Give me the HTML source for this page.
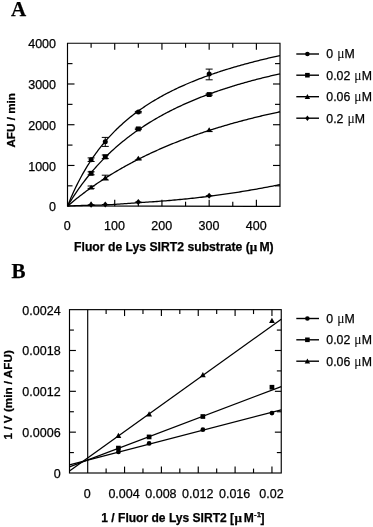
<!DOCTYPE html>
<html><head><meta charset="utf-8"><title>Figure</title>
<style>html,body{margin:0;padding:0;background:#fff}svg{display:block}</style></head>
<body><svg width="373" height="527" viewBox="0 0 373 527">
<rect width="373" height="527" fill="#fff"/>
<polygon points="67.5,43.25 280.0,43.25 280.0,206.39999999999998 67.5,205.89999999999998" fill="none" stroke="#000" stroke-width="1.15" stroke-linejoin="miter"/>
<line x1="91.11" y1="43.25" x2="91.11" y2="47.75" stroke="#000" stroke-width="1.15"/>
<line x1="91.11" y1="206.20" x2="91.11" y2="201.70" stroke="#000" stroke-width="1.15"/>
<line x1="114.72" y1="43.25" x2="114.72" y2="49.75" stroke="#000" stroke-width="1.15"/>
<line x1="114.72" y1="206.20" x2="114.72" y2="199.70" stroke="#000" stroke-width="1.15"/>
<line x1="138.33" y1="43.25" x2="138.33" y2="47.75" stroke="#000" stroke-width="1.15"/>
<line x1="138.33" y1="206.20" x2="138.33" y2="201.70" stroke="#000" stroke-width="1.15"/>
<line x1="161.94" y1="43.25" x2="161.94" y2="49.75" stroke="#000" stroke-width="1.15"/>
<line x1="161.94" y1="206.20" x2="161.94" y2="199.70" stroke="#000" stroke-width="1.15"/>
<line x1="185.56" y1="43.25" x2="185.56" y2="47.75" stroke="#000" stroke-width="1.15"/>
<line x1="185.56" y1="206.20" x2="185.56" y2="201.70" stroke="#000" stroke-width="1.15"/>
<line x1="209.17" y1="43.25" x2="209.17" y2="49.75" stroke="#000" stroke-width="1.15"/>
<line x1="209.17" y1="206.20" x2="209.17" y2="199.70" stroke="#000" stroke-width="1.15"/>
<line x1="232.78" y1="43.25" x2="232.78" y2="47.75" stroke="#000" stroke-width="1.15"/>
<line x1="232.78" y1="206.20" x2="232.78" y2="201.70" stroke="#000" stroke-width="1.15"/>
<line x1="256.39" y1="43.25" x2="256.39" y2="49.75" stroke="#000" stroke-width="1.15"/>
<line x1="256.39" y1="206.20" x2="256.39" y2="199.70" stroke="#000" stroke-width="1.15"/>
<line x1="67.50" y1="185.83" x2="72.50" y2="185.83" stroke="#000" stroke-width="1.15"/>
<line x1="280.00" y1="185.83" x2="275.00" y2="185.83" stroke="#000" stroke-width="1.15"/>
<line x1="67.50" y1="165.46" x2="74.50" y2="165.46" stroke="#000" stroke-width="1.15"/>
<line x1="280.00" y1="165.46" x2="273.00" y2="165.46" stroke="#000" stroke-width="1.15"/>
<line x1="67.50" y1="145.09" x2="72.50" y2="145.09" stroke="#000" stroke-width="1.15"/>
<line x1="280.00" y1="145.09" x2="275.00" y2="145.09" stroke="#000" stroke-width="1.15"/>
<line x1="67.50" y1="124.72" x2="74.50" y2="124.72" stroke="#000" stroke-width="1.15"/>
<line x1="280.00" y1="124.72" x2="273.00" y2="124.72" stroke="#000" stroke-width="1.15"/>
<line x1="67.50" y1="104.36" x2="72.50" y2="104.36" stroke="#000" stroke-width="1.15"/>
<line x1="280.00" y1="104.36" x2="275.00" y2="104.36" stroke="#000" stroke-width="1.15"/>
<line x1="67.50" y1="83.99" x2="74.50" y2="83.99" stroke="#000" stroke-width="1.15"/>
<line x1="280.00" y1="83.99" x2="273.00" y2="83.99" stroke="#000" stroke-width="1.15"/>
<line x1="67.50" y1="63.62" x2="72.50" y2="63.62" stroke="#000" stroke-width="1.15"/>
<line x1="280.00" y1="63.62" x2="275.00" y2="63.62" stroke="#000" stroke-width="1.15"/>
<path d="M67.50,206.20 L68.68,203.26 L69.86,200.40 L71.04,197.62 L72.22,194.93 L73.40,192.30 L74.58,189.75 L75.76,187.27 L76.94,184.86 L78.12,182.51 L79.31,180.22 L80.49,177.98 L81.67,175.81 L82.85,173.69 L84.03,171.62 L85.21,169.60 L86.39,167.62 L87.57,165.70 L88.75,163.82 L89.93,161.98 L91.11,160.18 L92.29,158.43 L93.47,156.71 L94.65,155.03 L95.83,153.38 L97.01,151.77 L98.19,150.20 L99.38,148.66 L100.56,147.15 L101.74,145.67 L102.92,144.22 L104.10,142.79 L105.28,141.40 L106.46,140.03 L107.64,138.69 L108.82,137.38 L110.00,136.09 L111.18,134.82 L112.36,133.58 L113.54,132.36 L114.72,131.16 L115.90,129.98 L117.08,128.83 L118.26,127.69 L119.44,126.57 L120.62,125.48 L121.81,124.40 L122.99,123.34 L124.17,122.29 L125.35,121.27 L126.53,120.26 L127.71,119.27 L128.89,118.29 L130.07,117.33 L131.25,116.38 L132.43,115.45 L133.61,114.53 L134.79,113.63 L135.97,112.74 L137.15,111.87 L138.33,111.00 L139.51,110.15 L140.69,109.31 L141.88,108.49 L143.06,107.68 L144.24,106.87 L145.42,106.08 L146.60,105.30 L147.78,104.54 L148.96,103.78 L150.14,103.03 L151.32,102.29 L152.50,101.57 L153.68,100.85 L154.86,100.14 L156.04,99.44 L157.22,98.75 L158.40,98.07 L159.58,97.40 L160.76,96.73 L161.94,96.08 L163.12,95.43 L164.31,94.79 L165.49,94.16 L166.67,93.54 L167.85,92.93 L169.03,92.32 L170.21,91.72 L171.39,91.12 L172.57,90.54 L173.75,89.96 L174.93,89.38 L176.11,88.82 L177.29,88.26 L178.47,87.71 L179.65,87.16 L180.83,86.62 L182.01,86.08 L183.19,85.55 L184.38,85.03 L185.56,84.51 L186.74,84.00 L187.92,83.50 L189.10,83.00 L190.28,82.50 L191.46,82.01 L192.64,81.53 L193.82,81.05 L195.00,80.57 L196.18,80.10 L197.36,79.64 L198.54,79.17 L199.72,78.72 L200.90,78.27 L202.08,77.82 L203.26,77.38 L204.44,76.94 L205.62,76.51 L206.81,76.08 L207.99,75.65 L209.17,75.23 L210.35,74.81 L211.53,74.40 L212.71,73.99 L213.89,73.59 L215.07,73.18 L216.25,72.79 L217.43,72.39 L218.61,72.00 L219.79,71.61 L220.97,71.23 L222.15,70.85 L223.33,70.47 L224.51,70.10 L225.69,69.73 L226.88,69.36 L228.06,69.00 L229.24,68.64 L230.42,68.28 L231.60,67.92 L232.78,67.57 L233.96,67.22 L235.14,66.88 L236.32,66.54 L237.50,66.20 L238.68,65.86 L239.86,65.52 L241.04,65.19 L242.22,64.86 L243.40,64.54 L244.58,64.21 L245.76,63.89 L246.94,63.57 L248.12,63.26 L249.31,62.94 L250.49,62.63 L251.67,62.32 L252.85,62.02 L254.03,61.71 L255.21,61.41 L256.39,61.11 L257.57,60.81 L258.75,60.52 L259.93,60.22 L261.11,59.93 L262.29,59.65 L263.47,59.36 L264.65,59.07 L265.83,58.79 L267.01,58.51 L268.19,58.23 L269.38,57.96 L270.56,57.68 L271.74,57.41 L272.92,57.14 L274.10,56.87 L275.28,56.60 L276.46,56.34 L277.64,56.08 L278.82,55.81 L280.00,55.55" fill="none" stroke="#000" stroke-width="1.3" stroke-linejoin="round"/>
<path d="M67.50,206.20 L68.68,204.22 L69.86,202.28 L71.04,200.37 L72.22,198.50 L73.40,196.67 L74.58,194.86 L75.76,193.09 L76.94,191.36 L78.12,189.65 L79.31,187.97 L80.49,186.33 L81.67,184.71 L82.85,183.12 L84.03,181.55 L85.21,180.01 L86.39,178.50 L87.57,177.01 L88.75,175.54 L89.93,174.10 L91.11,172.68 L92.29,171.29 L93.47,169.91 L94.65,168.56 L95.83,167.22 L97.01,165.91 L98.19,164.62 L99.38,163.35 L100.56,162.09 L101.74,160.85 L102.92,159.64 L104.10,158.43 L105.28,157.25 L106.46,156.08 L107.64,154.93 L108.82,153.80 L110.00,152.68 L111.18,151.58 L112.36,150.49 L113.54,149.42 L114.72,148.36 L115.90,147.32 L117.08,146.29 L118.26,145.27 L119.44,144.27 L120.62,143.28 L121.81,142.30 L122.99,141.34 L124.17,140.38 L125.35,139.44 L126.53,138.52 L127.71,137.60 L128.89,136.70 L130.07,135.80 L131.25,134.92 L132.43,134.05 L133.61,133.19 L134.79,132.34 L135.97,131.50 L137.15,130.67 L138.33,129.85 L139.51,129.04 L140.69,128.24 L141.88,127.45 L143.06,126.67 L144.24,125.90 L145.42,125.14 L146.60,124.38 L147.78,123.64 L148.96,122.90 L150.14,122.17 L151.32,121.45 L152.50,120.74 L153.68,120.03 L154.86,119.34 L156.04,118.65 L157.22,117.97 L158.40,117.30 L159.58,116.63 L160.76,115.97 L161.94,115.32 L163.12,114.68 L164.31,114.04 L165.49,113.41 L166.67,112.78 L167.85,112.17 L169.03,111.56 L170.21,110.95 L171.39,110.35 L172.57,109.76 L173.75,109.18 L174.93,108.60 L176.11,108.02 L177.29,107.46 L178.47,106.90 L179.65,106.34 L180.83,105.79 L182.01,105.24 L183.19,104.71 L184.38,104.17 L185.56,103.64 L186.74,103.12 L187.92,102.60 L189.10,102.09 L190.28,101.58 L191.46,101.08 L192.64,100.58 L193.82,100.09 L195.00,99.60 L196.18,99.11 L197.36,98.64 L198.54,98.16 L199.72,97.69 L200.90,97.23 L202.08,96.76 L203.26,96.31 L204.44,95.86 L205.62,95.41 L206.81,94.96 L207.99,94.52 L209.17,94.09 L210.35,93.66 L211.53,93.23 L212.71,92.80 L213.89,92.38 L215.07,91.97 L216.25,91.56 L217.43,91.15 L218.61,90.74 L219.79,90.34 L220.97,89.94 L222.15,89.55 L223.33,89.16 L224.51,88.77 L225.69,88.39 L226.88,88.01 L228.06,87.63 L229.24,87.26 L230.42,86.89 L231.60,86.52 L232.78,86.15 L233.96,85.79 L235.14,85.43 L236.32,85.08 L237.50,84.73 L238.68,84.38 L239.86,84.03 L241.04,83.69 L242.22,83.35 L243.40,83.01 L244.58,82.68 L245.76,82.35 L246.94,82.02 L248.12,81.69 L249.31,81.37 L250.49,81.05 L251.67,80.73 L252.85,80.42 L254.03,80.10 L255.21,79.79 L256.39,79.49 L257.57,79.18 L258.75,78.88 L259.93,78.58 L261.11,78.28 L262.29,77.99 L263.47,77.69 L264.65,77.40 L265.83,77.11 L267.01,76.83 L268.19,76.54 L269.38,76.26 L270.56,75.98 L271.74,75.71 L272.92,75.43 L274.10,75.16 L275.28,74.89 L276.46,74.62 L277.64,74.35 L278.82,74.09 L280.00,73.83" fill="none" stroke="#000" stroke-width="1.3" stroke-linejoin="round"/>
<path d="M67.50,206.20 L68.68,205.18 L69.86,204.18 L71.04,203.18 L72.22,202.19 L73.40,201.22 L74.58,200.25 L75.76,199.30 L76.94,198.35 L78.12,197.41 L79.31,196.48 L80.49,195.57 L81.67,194.66 L82.85,193.75 L84.03,192.86 L85.21,191.98 L86.39,191.10 L87.57,190.23 L88.75,189.37 L89.93,188.52 L91.11,187.68 L92.29,186.84 L93.47,186.01 L94.65,185.19 L95.83,184.38 L97.01,183.57 L98.19,182.77 L99.38,181.98 L100.56,181.19 L101.74,180.41 L102.92,179.64 L104.10,178.88 L105.28,178.12 L106.46,177.37 L107.64,176.62 L108.82,175.88 L110.00,175.15 L111.18,174.42 L112.36,173.70 L113.54,172.99 L114.72,172.28 L115.90,171.57 L117.08,170.88 L118.26,170.19 L119.44,169.50 L120.62,168.82 L121.81,168.15 L122.99,167.48 L124.17,166.82 L125.35,166.16 L126.53,165.51 L127.71,164.86 L128.89,164.22 L130.07,163.58 L131.25,162.95 L132.43,162.32 L133.61,161.70 L134.79,161.09 L135.97,160.47 L137.15,159.87 L138.33,159.27 L139.51,158.67 L140.69,158.08 L141.88,157.49 L143.06,156.91 L144.24,156.33 L145.42,155.75 L146.60,155.19 L147.78,154.62 L148.96,154.06 L150.14,153.50 L151.32,152.95 L152.50,152.40 L153.68,151.86 L154.86,151.32 L156.04,150.79 L157.22,150.26 L158.40,149.73 L159.58,149.21 L160.76,148.69 L161.94,148.17 L163.12,147.66 L164.31,147.16 L165.49,146.65 L166.67,146.15 L167.85,145.66 L169.03,145.17 L170.21,144.68 L171.39,144.19 L172.57,143.71 L173.75,143.23 L174.93,142.76 L176.11,142.29 L177.29,141.82 L178.47,141.36 L179.65,140.90 L180.83,140.44 L182.01,139.99 L183.19,139.54 L184.38,139.10 L185.56,138.65 L186.74,138.21 L187.92,137.78 L189.10,137.34 L190.28,136.91 L191.46,136.49 L192.64,136.06 L193.82,135.64 L195.00,135.22 L196.18,134.81 L197.36,134.40 L198.54,133.99 L199.72,133.58 L200.90,133.18 L202.08,132.78 L203.26,132.38 L204.44,131.99 L205.62,131.60 L206.81,131.21 L207.99,130.82 L209.17,130.44 L210.35,130.06 L211.53,129.68 L212.71,129.31 L213.89,128.93 L215.07,128.56 L216.25,128.20 L217.43,127.83 L218.61,127.47 L219.79,127.11 L220.97,126.76 L222.15,126.40 L223.33,126.05 L224.51,125.70 L225.69,125.35 L226.88,125.01 L228.06,124.67 L229.24,124.33 L230.42,123.99 L231.60,123.66 L232.78,123.32 L233.96,122.99 L235.14,122.67 L236.32,122.34 L237.50,122.02 L238.68,121.70 L239.86,121.38 L241.04,121.06 L242.22,120.75 L243.40,120.43 L244.58,120.12 L245.76,119.82 L246.94,119.51 L248.12,119.21 L249.31,118.91 L250.49,118.61 L251.67,118.31 L252.85,118.01 L254.03,117.72 L255.21,117.43 L256.39,117.14 L257.57,116.85 L258.75,116.57 L259.93,116.29 L261.11,116.00 L262.29,115.72 L263.47,115.45 L264.65,115.17 L265.83,114.90 L267.01,114.63 L268.19,114.36 L269.38,114.09 L270.56,113.82 L271.74,113.56 L272.92,113.29 L274.10,113.03 L275.28,112.77 L276.46,112.52 L277.64,112.26 L278.82,112.01 L280.00,111.76" fill="none" stroke="#000" stroke-width="1.3" stroke-linejoin="round"/>
<path d="M67.50,206.10 L69.29,205.99 L71.07,205.90 L72.86,205.81 L74.64,205.74 L76.43,205.67 L78.21,205.61 L80.00,205.55 L81.79,205.51 L83.57,205.46 L85.36,205.42 L87.14,205.38 L88.93,205.34 L90.71,205.31 L92.50,205.27 L94.29,205.23 L96.07,205.19 L97.86,205.14 L99.64,205.09 L101.43,205.03 L103.21,204.97 L105.00,204.90 L106.79,204.82 L108.57,204.73 L110.36,204.64 L112.14,204.54 L113.93,204.43 L115.71,204.32 L117.50,204.20 L119.29,204.08 L121.07,203.96 L122.86,203.83 L124.64,203.70 L126.43,203.57 L128.21,203.44 L130.00,203.31 L131.79,203.18 L133.57,203.05 L135.36,202.92 L137.14,202.79 L138.93,202.67 L140.71,202.55 L142.50,202.44 L144.29,202.32 L146.07,202.21 L147.86,202.09 L149.64,201.97 L151.43,201.85 L153.21,201.73 L155.00,201.61 L156.79,201.48 L158.57,201.35 L160.36,201.21 L162.14,201.07 L163.93,200.93 L165.71,200.79 L167.50,200.64 L169.29,200.49 L171.07,200.34 L172.86,200.18 L174.64,200.02 L176.43,199.86 L178.21,199.69 L180.00,199.52 L181.79,199.35 L183.57,199.18 L185.36,199.00 L187.14,198.81 L188.93,198.63 L190.71,198.44 L192.50,198.25 L194.29,198.05 L196.07,197.85 L197.86,197.65 L199.64,197.44 L201.43,197.23 L203.21,197.02 L205.00,196.80 L206.79,196.58 L208.57,196.36 L210.36,196.13 L212.14,195.90 L213.93,195.67 L215.71,195.43 L217.50,195.19 L219.29,194.94 L221.07,194.69 L222.86,194.44 L224.64,194.19 L226.43,193.93 L228.21,193.67 L230.00,193.40 L231.79,193.13 L233.57,192.86 L235.36,192.59 L237.14,192.31 L238.93,192.03 L240.71,191.74 L242.50,191.45 L244.29,191.16 L246.07,190.86 L247.86,190.56 L249.64,190.26 L251.43,189.95 L253.21,189.65 L255.00,189.33 L256.79,189.02 L258.57,188.70 L260.36,188.37 L262.14,188.05 L263.93,187.72 L265.71,187.38 L267.50,187.05 L269.29,186.71 L271.07,186.37 L272.86,186.02 L274.64,185.67 L276.43,185.32 L278.21,184.96 L280.00,184.60" fill="none" stroke="#000" stroke-width="1.3" stroke-linejoin="round"/>
<line x1="91.11" y1="157.90" x2="91.11" y2="161.50" stroke="#000" stroke-width="1.0"/>
<line x1="87.61" y1="157.90" x2="94.61" y2="157.90" stroke="#000" stroke-width="1.0"/>
<line x1="87.61" y1="161.50" x2="94.61" y2="161.50" stroke="#000" stroke-width="1.0"/>
<circle cx="91.11" cy="159.70" r="2.5" fill="#000"/>
<line x1="105.28" y1="137.40" x2="105.28" y2="146.40" stroke="#000" stroke-width="1.0"/>
<line x1="101.78" y1="137.40" x2="108.78" y2="137.40" stroke="#000" stroke-width="1.0"/>
<line x1="101.78" y1="146.40" x2="108.78" y2="146.40" stroke="#000" stroke-width="1.0"/>
<circle cx="105.28" cy="141.80" r="2.5" fill="#000"/>
<line x1="138.33" y1="111.40" x2="138.33" y2="112.80" stroke="#000" stroke-width="1.0"/>
<line x1="134.83" y1="111.40" x2="141.83" y2="111.40" stroke="#000" stroke-width="1.0"/>
<line x1="134.83" y1="112.80" x2="141.83" y2="112.80" stroke="#000" stroke-width="1.0"/>
<circle cx="138.33" cy="112.10" r="2.5" fill="#000"/>
<line x1="209.17" y1="69.10" x2="209.17" y2="79.80" stroke="#000" stroke-width="1.0"/>
<line x1="205.67" y1="69.10" x2="212.67" y2="69.10" stroke="#000" stroke-width="1.0"/>
<line x1="205.67" y1="79.80" x2="212.67" y2="79.80" stroke="#000" stroke-width="1.0"/>
<circle cx="209.17" cy="74.10" r="2.5" fill="#000"/>
<line x1="91.11" y1="171.80" x2="91.11" y2="174.80" stroke="#000" stroke-width="1.0"/>
<line x1="87.61" y1="171.80" x2="94.61" y2="171.80" stroke="#000" stroke-width="1.0"/>
<line x1="87.61" y1="174.80" x2="94.61" y2="174.80" stroke="#000" stroke-width="1.0"/>
<rect x="88.66" y="170.85" width="4.9" height="4.9" fill="#000"/>
<line x1="105.28" y1="155.00" x2="105.28" y2="158.60" stroke="#000" stroke-width="1.0"/>
<line x1="101.78" y1="155.00" x2="108.78" y2="155.00" stroke="#000" stroke-width="1.0"/>
<line x1="101.78" y1="158.60" x2="108.78" y2="158.60" stroke="#000" stroke-width="1.0"/>
<rect x="102.83" y="154.35" width="4.9" height="4.9" fill="#000"/>
<line x1="138.33" y1="128.20" x2="138.33" y2="129.60" stroke="#000" stroke-width="1.0"/>
<line x1="134.83" y1="128.20" x2="141.83" y2="128.20" stroke="#000" stroke-width="1.0"/>
<line x1="134.83" y1="129.60" x2="141.83" y2="129.60" stroke="#000" stroke-width="1.0"/>
<rect x="135.88" y="126.45" width="4.9" height="4.9" fill="#000"/>
<line x1="209.17" y1="93.85" x2="209.17" y2="95.25" stroke="#000" stroke-width="1.0"/>
<line x1="205.67" y1="93.85" x2="212.67" y2="93.85" stroke="#000" stroke-width="1.0"/>
<line x1="205.67" y1="95.25" x2="212.67" y2="95.25" stroke="#000" stroke-width="1.0"/>
<rect x="206.72" y="92.10" width="4.9" height="4.9" fill="#000"/>
<line x1="91.11" y1="186.00" x2="91.11" y2="188.40" stroke="#000" stroke-width="1.0"/>
<line x1="87.61" y1="186.00" x2="94.61" y2="186.00" stroke="#000" stroke-width="1.0"/>
<line x1="87.61" y1="188.40" x2="94.61" y2="188.40" stroke="#000" stroke-width="1.0"/>
<polygon points="91.11,184.85 94.11,189.55 88.11,189.55" fill="#000"/>
<line x1="105.28" y1="175.20" x2="105.28" y2="180.00" stroke="#000" stroke-width="1.0"/>
<line x1="101.78" y1="175.20" x2="108.78" y2="175.20" stroke="#000" stroke-width="1.0"/>
<line x1="101.78" y1="180.00" x2="108.78" y2="180.00" stroke="#000" stroke-width="1.0"/>
<polygon points="105.28,175.25 108.28,179.95 102.28,179.95" fill="#000"/>
<line x1="134.83" y1="159.90" x2="141.83" y2="159.90" stroke="#000" stroke-width="1.0"/>
<polygon points="138.33,155.65 141.33,160.35 135.33,160.35" fill="#000"/>
<line x1="205.67" y1="131.60" x2="212.67" y2="131.60" stroke="#000" stroke-width="1.0"/>
<polygon points="209.17,127.35 212.17,132.05 206.17,132.05" fill="#000"/>
<line x1="87.71" y1="204.80" x2="94.51" y2="204.80" stroke="#000" stroke-width="1.0"/>
<polygon points="91.11,201.80 93.71,204.80 91.11,207.80 88.51,204.80" fill="#000"/>
<line x1="101.88" y1="204.50" x2="108.68" y2="204.50" stroke="#000" stroke-width="1.0"/>
<polygon points="105.28,201.50 107.88,204.50 105.28,207.50 102.68,204.50" fill="#000"/>
<line x1="134.93" y1="202.10" x2="141.73" y2="202.10" stroke="#000" stroke-width="1.0"/>
<polygon points="138.33,199.10 140.93,202.10 138.33,205.10 135.73,202.10" fill="#000"/>
<line x1="205.77" y1="195.70" x2="212.57" y2="195.70" stroke="#000" stroke-width="1.0"/>
<polygon points="209.17,192.70 211.77,195.70 209.17,198.70 206.57,195.70" fill="#000"/>
<text x="56.00" y="211.40" font-size="12.5" text-anchor="end" font-weight="normal" font-family='"Liberation Sans", Arial, sans-serif' stroke="#000" stroke-width="0.25" >0</text>
<text x="56.00" y="170.66" font-size="12.5" text-anchor="end" font-weight="normal" font-family='"Liberation Sans", Arial, sans-serif' stroke="#000" stroke-width="0.25" >1000</text>
<text x="56.00" y="129.92" font-size="12.5" text-anchor="end" font-weight="normal" font-family='"Liberation Sans", Arial, sans-serif' stroke="#000" stroke-width="0.25" >2000</text>
<text x="56.00" y="88.99" font-size="12.5" text-anchor="end" font-weight="normal" font-family='"Liberation Sans", Arial, sans-serif' stroke="#000" stroke-width="0.25" >3000</text>
<text x="56.00" y="48.15" font-size="12.5" text-anchor="end" font-weight="normal" font-family='"Liberation Sans", Arial, sans-serif' stroke="#000" stroke-width="0.25" >4000</text>
<text x="67.30" y="230.40" font-size="12.5" text-anchor="middle" font-weight="normal" font-family='"Liberation Sans", Arial, sans-serif' stroke="#000" stroke-width="0.25" >0</text>
<text x="114.52" y="230.40" font-size="12.5" text-anchor="middle" font-weight="normal" font-family='"Liberation Sans", Arial, sans-serif' stroke="#000" stroke-width="0.25" >100</text>
<text x="161.74" y="230.40" font-size="12.5" text-anchor="middle" font-weight="normal" font-family='"Liberation Sans", Arial, sans-serif' stroke="#000" stroke-width="0.25" >200</text>
<text x="208.97" y="230.40" font-size="12.5" text-anchor="middle" font-weight="normal" font-family='"Liberation Sans", Arial, sans-serif' stroke="#000" stroke-width="0.25" >300</text>
<text x="256.19" y="230.40" font-size="12.5" text-anchor="middle" font-weight="normal" font-family='"Liberation Sans", Arial, sans-serif' stroke="#000" stroke-width="0.25" >400</text>
<text x="74.10" y="251.00" font-size="12.2" text-anchor="start" font-weight="bold" font-family='"Liberation Sans", Arial, sans-serif' stroke="#000" stroke-width="0.25" >Fluor de Lys SIRT2 substrate (<tspan font-family='"Liberation Serif", "Times New Roman", serif' font-weight="bold" font-size="13">μ</tspan><tspan dx="2.3">M)</tspan></text>
<text transform="translate(15.4,120.3) rotate(-90)" font-size="11.7" text-anchor="middle" font-weight="bold" font-family='"Liberation Sans", Arial, sans-serif' stroke="#000" stroke-width="0.25">AFU / min</text>
<text x="11.00" y="16.00" font-size="21" text-anchor="start" font-weight="bold" font-family='"Liberation Serif", "Times New Roman", serif' stroke="#000" stroke-width="0.25" >A</text>
<line x1="296.30" y1="54.00" x2="319.00" y2="54.00" stroke="#000" stroke-width="1.4"/>
<circle cx="307.40" cy="54.00" r="2.3" fill="#000"/>
<text x="326.30" y="58.40" font-size="12.3" text-anchor="start" font-weight="normal" font-family='"Liberation Sans", Arial, sans-serif' stroke="#000" stroke-width="0.25" >0 <tspan font-family='"Liberation Serif", "Times New Roman", serif' font-size="13.6" dx="0.7" stroke-width="0">μ</tspan>M</text>
<line x1="296.30" y1="75.20" x2="319.00" y2="75.20" stroke="#000" stroke-width="1.4"/>
<rect x="305.10" y="72.90" width="4.6" height="4.6" fill="#000"/>
<text x="326.30" y="79.60" font-size="12.3" text-anchor="start" font-weight="normal" font-family='"Liberation Sans", Arial, sans-serif' stroke="#000" stroke-width="0.25" >0.02 <tspan font-family='"Liberation Serif", "Times New Roman", serif' font-size="13.6" dx="0.7" stroke-width="0">μ</tspan>M</text>
<line x1="296.30" y1="96.70" x2="319.00" y2="96.70" stroke="#000" stroke-width="1.4"/>
<polygon points="307.40,93.90 310.10,98.90 304.70,98.90" fill="#000"/>
<text x="326.30" y="101.10" font-size="12.3" text-anchor="start" font-weight="normal" font-family='"Liberation Sans", Arial, sans-serif' stroke="#000" stroke-width="0.25" >0.06 <tspan font-family='"Liberation Serif", "Times New Roman", serif' font-size="13.6" dx="0.7" stroke-width="0">μ</tspan>M</text>
<line x1="296.30" y1="118.20" x2="319.00" y2="118.20" stroke="#000" stroke-width="1.4"/>
<polygon points="307.40,115.40 309.55,118.20 307.40,121.00 305.25,118.20" fill="#000"/>
<text x="326.30" y="122.60" font-size="12.3" text-anchor="start" font-weight="normal" font-family='"Liberation Sans", Arial, sans-serif' stroke="#000" stroke-width="0.25" >0.2 <tspan font-family='"Liberation Serif", "Times New Roman", serif' font-size="13.6" dx="0.7" stroke-width="0">μ</tspan>M</text>
<rect x="69.5" y="309.65" width="211.75" height="163.35000000000002" fill="none" stroke="#000" stroke-width="1.15"/>
<line x1="87.70" y1="309.65" x2="87.70" y2="473.00" stroke="#000" stroke-width="1.15"/>
<line x1="106.12" y1="309.65" x2="106.12" y2="314.05" stroke="#000" stroke-width="1.15"/>
<line x1="106.12" y1="473.00" x2="106.12" y2="468.60" stroke="#000" stroke-width="1.15"/>
<line x1="124.55" y1="309.65" x2="124.55" y2="316.05" stroke="#000" stroke-width="1.15"/>
<line x1="124.55" y1="473.00" x2="124.55" y2="466.60" stroke="#000" stroke-width="1.15"/>
<line x1="142.97" y1="309.65" x2="142.97" y2="314.05" stroke="#000" stroke-width="1.15"/>
<line x1="142.97" y1="473.00" x2="142.97" y2="468.60" stroke="#000" stroke-width="1.15"/>
<line x1="161.40" y1="309.65" x2="161.40" y2="316.05" stroke="#000" stroke-width="1.15"/>
<line x1="161.40" y1="473.00" x2="161.40" y2="466.60" stroke="#000" stroke-width="1.15"/>
<line x1="179.82" y1="309.65" x2="179.82" y2="314.05" stroke="#000" stroke-width="1.15"/>
<line x1="179.82" y1="473.00" x2="179.82" y2="468.60" stroke="#000" stroke-width="1.15"/>
<line x1="198.25" y1="309.65" x2="198.25" y2="316.05" stroke="#000" stroke-width="1.15"/>
<line x1="198.25" y1="473.00" x2="198.25" y2="466.60" stroke="#000" stroke-width="1.15"/>
<line x1="216.68" y1="309.65" x2="216.68" y2="314.05" stroke="#000" stroke-width="1.15"/>
<line x1="216.68" y1="473.00" x2="216.68" y2="468.60" stroke="#000" stroke-width="1.15"/>
<line x1="235.10" y1="309.65" x2="235.10" y2="316.05" stroke="#000" stroke-width="1.15"/>
<line x1="235.10" y1="473.00" x2="235.10" y2="466.60" stroke="#000" stroke-width="1.15"/>
<line x1="253.53" y1="309.65" x2="253.53" y2="314.05" stroke="#000" stroke-width="1.15"/>
<line x1="253.53" y1="473.00" x2="253.53" y2="468.60" stroke="#000" stroke-width="1.15"/>
<line x1="271.95" y1="309.65" x2="271.95" y2="316.05" stroke="#000" stroke-width="1.15"/>
<line x1="271.95" y1="473.00" x2="271.95" y2="466.60" stroke="#000" stroke-width="1.15"/>
<line x1="69.50" y1="452.58" x2="73.90" y2="452.58" stroke="#000" stroke-width="1.15"/>
<line x1="281.25" y1="452.58" x2="276.85" y2="452.58" stroke="#000" stroke-width="1.15"/>
<line x1="69.50" y1="432.16" x2="75.90" y2="432.16" stroke="#000" stroke-width="1.15"/>
<line x1="281.25" y1="432.16" x2="274.85" y2="432.16" stroke="#000" stroke-width="1.15"/>
<line x1="69.50" y1="411.74" x2="73.90" y2="411.74" stroke="#000" stroke-width="1.15"/>
<line x1="281.25" y1="411.74" x2="276.85" y2="411.74" stroke="#000" stroke-width="1.15"/>
<line x1="69.50" y1="391.32" x2="75.90" y2="391.32" stroke="#000" stroke-width="1.15"/>
<line x1="281.25" y1="391.32" x2="274.85" y2="391.32" stroke="#000" stroke-width="1.15"/>
<line x1="69.50" y1="370.91" x2="73.90" y2="370.91" stroke="#000" stroke-width="1.15"/>
<line x1="281.25" y1="370.91" x2="276.85" y2="370.91" stroke="#000" stroke-width="1.15"/>
<line x1="69.50" y1="350.49" x2="75.90" y2="350.49" stroke="#000" stroke-width="1.15"/>
<line x1="281.25" y1="350.49" x2="274.85" y2="350.49" stroke="#000" stroke-width="1.15"/>
<line x1="69.50" y1="330.07" x2="73.90" y2="330.07" stroke="#000" stroke-width="1.15"/>
<line x1="281.25" y1="330.07" x2="276.85" y2="330.07" stroke="#000" stroke-width="1.15"/>
<line x1="69.50" y1="464.90" x2="281.25" y2="409.80" stroke="#000" stroke-width="1.3"/>
<line x1="69.50" y1="466.80" x2="281.25" y2="386.60" stroke="#000" stroke-width="1.3"/>
<line x1="69.50" y1="471.00" x2="281.25" y2="319.20" stroke="#000" stroke-width="1.3"/>
<circle cx="271.95" cy="413.11" r="2.4" fill="#000"/>
<circle cx="202.86" cy="429.64" r="2.4" fill="#000"/>
<circle cx="149.12" cy="443.39" r="2.4" fill="#000"/>
<circle cx="118.41" cy="451.90" r="2.4" fill="#000"/>
<rect x="269.60" y="384.89" width="4.7" height="4.7" fill="#000"/>
<rect x="200.51" y="414.16" width="4.7" height="4.7" fill="#000"/>
<rect x="146.77" y="434.58" width="4.7" height="4.7" fill="#000"/>
<rect x="116.06" y="445.74" width="4.7" height="4.7" fill="#000"/>
<polygon points="271.95,317.82 274.85,323.02 269.05,323.02" fill="#000"/>
<polygon points="202.86,372.07 205.76,377.27 199.96,377.27" fill="#000"/>
<polygon points="149.12,411.21 152.02,416.41 146.22,416.41" fill="#000"/>
<polygon points="118.41,432.78 121.31,437.98 115.51,437.98" fill="#000"/>
<text x="60.60" y="477.90" font-size="12.5" text-anchor="end" font-weight="normal" font-family='"Liberation Sans", Arial, sans-serif' stroke="#000" stroke-width="0.25" >0</text>
<text x="60.60" y="437.06" font-size="12.5" text-anchor="end" font-weight="normal" font-family='"Liberation Sans", Arial, sans-serif' stroke="#000" stroke-width="0.25" >0.0006</text>
<text x="60.60" y="396.22" font-size="12.5" text-anchor="end" font-weight="normal" font-family='"Liberation Sans", Arial, sans-serif' stroke="#000" stroke-width="0.25" >0.0012</text>
<text x="60.60" y="355.39" font-size="12.5" text-anchor="end" font-weight="normal" font-family='"Liberation Sans", Arial, sans-serif' stroke="#000" stroke-width="0.25" >0.0018</text>
<text x="60.60" y="314.55" font-size="12.5" text-anchor="end" font-weight="normal" font-family='"Liberation Sans", Arial, sans-serif' stroke="#000" stroke-width="0.25" >0.0024</text>
<text x="87.20" y="498.00" font-size="12.5" text-anchor="middle" font-weight="normal" font-family='"Liberation Sans", Arial, sans-serif' stroke="#000" stroke-width="0.25" >0</text>
<text x="124.05" y="498.00" font-size="12.5" text-anchor="middle" font-weight="normal" font-family='"Liberation Sans", Arial, sans-serif' stroke="#000" stroke-width="0.25" >0.004</text>
<text x="160.90" y="498.00" font-size="12.5" text-anchor="middle" font-weight="normal" font-family='"Liberation Sans", Arial, sans-serif' stroke="#000" stroke-width="0.25" >0.008</text>
<text x="197.75" y="498.00" font-size="12.5" text-anchor="middle" font-weight="normal" font-family='"Liberation Sans", Arial, sans-serif' stroke="#000" stroke-width="0.25" >0.012</text>
<text x="234.60" y="498.00" font-size="12.5" text-anchor="middle" font-weight="normal" font-family='"Liberation Sans", Arial, sans-serif' stroke="#000" stroke-width="0.25" >0.016</text>
<text x="271.45" y="498.00" font-size="12.5" text-anchor="middle" font-weight="normal" font-family='"Liberation Sans", Arial, sans-serif' stroke="#000" stroke-width="0.25" >0.02</text>
<text x="101.30" y="521.70" font-size="12.05" text-anchor="start" font-weight="bold" font-family='"Liberation Sans", Arial, sans-serif' stroke="#000" stroke-width="0.25" >1 / Fluor de Lys SIRT2 [<tspan dx="0.5"><tspan font-family='"Liberation Serif", "Times New Roman", serif' font-weight="bold" font-size="13">μ</tspan></tspan><tspan dx="1.7">M</tspan><tspan font-size="7.8" dy="-4.5" dx="0.4">-1</tspan><tspan dy="4.5" dx="-0.6">]</tspan></text>
<text transform="translate(11.8,394.8) rotate(-90)" font-size="11.7" text-anchor="middle" font-weight="bold" font-family='"Liberation Sans", Arial, sans-serif' stroke="#000" stroke-width="0.25">1 / V (min / AFU)</text>
<text x="11.50" y="278.40" font-size="21" text-anchor="start" font-weight="bold" font-family='"Liberation Serif", "Times New Roman", serif' stroke="#000" stroke-width="0.25" >B</text>
<line x1="296.30" y1="318.50" x2="319.00" y2="318.50" stroke="#000" stroke-width="1.4"/>
<circle cx="307.40" cy="318.50" r="2.3" fill="#000"/>
<text x="326.30" y="322.90" font-size="12.3" text-anchor="start" font-weight="normal" font-family='"Liberation Sans", Arial, sans-serif' stroke="#000" stroke-width="0.25" >0 <tspan font-family='"Liberation Serif", "Times New Roman", serif' font-size="13.6" dx="0.7" stroke-width="0">μ</tspan>M</text>
<line x1="296.30" y1="339.80" x2="319.00" y2="339.80" stroke="#000" stroke-width="1.4"/>
<rect x="305.10" y="337.50" width="4.6" height="4.6" fill="#000"/>
<text x="326.30" y="344.20" font-size="12.3" text-anchor="start" font-weight="normal" font-family='"Liberation Sans", Arial, sans-serif' stroke="#000" stroke-width="0.25" >0.02 <tspan font-family='"Liberation Serif", "Times New Roman", serif' font-size="13.6" dx="0.7" stroke-width="0">μ</tspan>M</text>
<line x1="296.30" y1="361.20" x2="319.00" y2="361.20" stroke="#000" stroke-width="1.4"/>
<polygon points="307.40,358.40 310.10,363.40 304.70,363.40" fill="#000"/>
<text x="326.30" y="365.60" font-size="12.3" text-anchor="start" font-weight="normal" font-family='"Liberation Sans", Arial, sans-serif' stroke="#000" stroke-width="0.25" >0.06 <tspan font-family='"Liberation Serif", "Times New Roman", serif' font-size="13.6" dx="0.7" stroke-width="0">μ</tspan>M</text>
</svg></body></html>
